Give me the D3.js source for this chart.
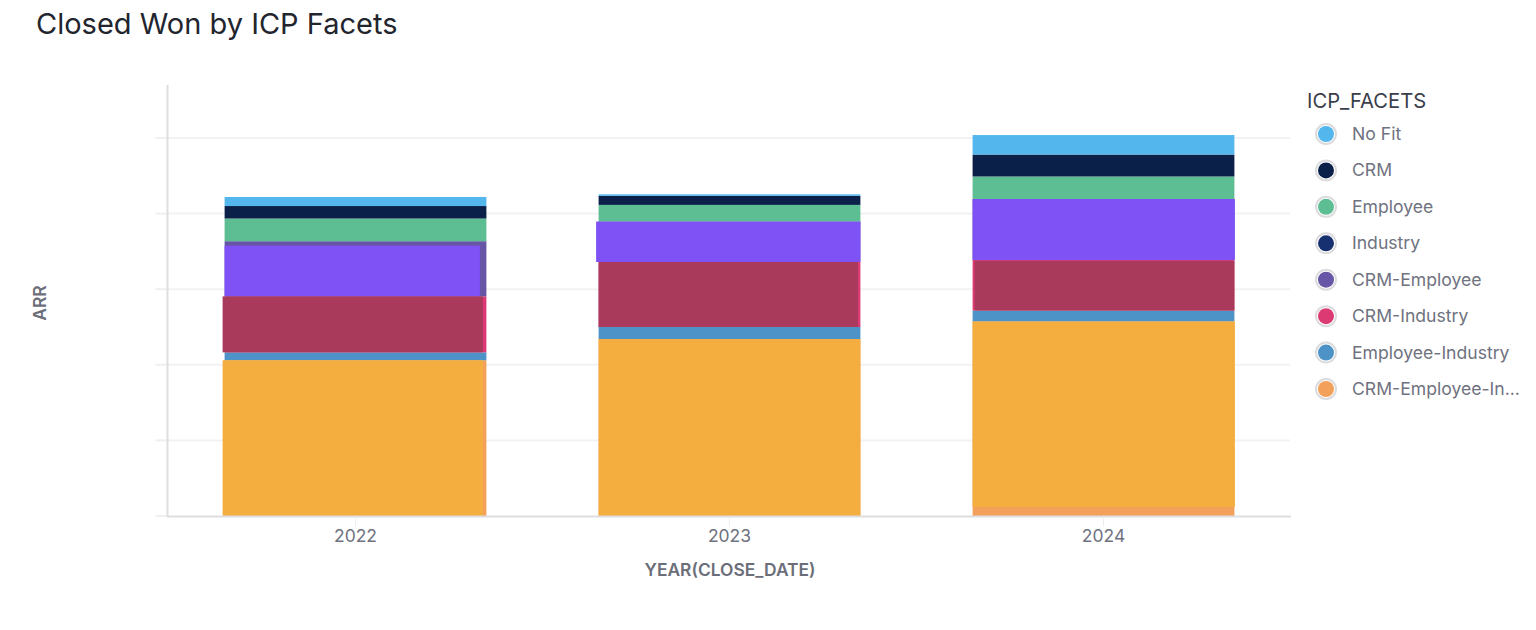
<!DOCTYPE html>
<html><head><meta charset="utf-8">
<script src="https://cdn.jsdelivr.net/npm/d3@7/dist/d3.min.js"></script>
<style>html,body{margin:0;padding:0;background:#fff}svg{display:block}text{font-family:Inter,Roboto,"Noto Sans",sans-serif}</style>
</head><body><svg id="c" width="1536" height="630"></svg>
<script>
const years = ["2022","2023","2024"];
const facets = ["No Fit","CRM","Employee","Industry","CRM-Employee","CRM-Industry","Employee-Industry","CRM-Employee-Industry"];
const facetLabels = ["No Fit","CRM","Employee","Industry","CRM-Employee","CRM-Industry","Employee-Industry","CRM-Employee-In..."];
const noFit = [0.12,0.02,0.258];
const crm = [0.165,0.12,0.29];
const employee = [0.30,0.22,0.298];
const industry = [0,0,0];
const crmEmployee = [0.73,0.535,0.807];
const crmIndustry = [0.74,0.86,0.668];
const employeeIndustry = [0.105,0.16,0.145];
const crmEmployeeIndustry = [2.06,2.34,2.573];
const yTicks = [0,1,2,3,4,5];
// Opaque blocks painted over three of the segments in the source picture
const purpleBlock = [0.67,0.535,0.807];
const redBlock = [0.74,0.86,0.655];
const amberBlock = [2.06,2.34,2.453];
const amberBlockBase = [0,0,0.12];

const colors = ["#53b6ec","#0a2049","#5dbe93","#17306f","#6756a5","#db3a72","#4e93c7","#f3a05a"];
const seriesValues = [noFit,crm,employee,industry,crmEmployee,crmIndustry,employeeIndustry,crmEmployeeIndustry];
// horizontal overhang of each painted block relative to the bar, px: [left, right] per year
const purpleInset = [[0,-6.5],[-2.5,0],[0,0.5]];
const redInset = [[-2,-3.5],[0,-2.5],[2,0]];
const amberInset = [[-2,-3.5],[0,0],[0,0.5]];

const svg = d3.select("#c");
const left = 167.5, bottom = 516;
const x = d3.scaleBand().domain(years).range([168.5,1290.5]).paddingInner(0.3).paddingOuter(0.15);
const y = d3.scaleLinear().domain([0,5]).range([bottom,138]);

svg.append("text").attr("x",36).attr("y",34).attr("font-size",29).attr("fill","#22252e").text("Closed Won by ICP Facets");

const gy = svg.append("g").attr("transform",`translate(${left},0)`)
  .call(d3.axisLeft(y).offset(0).tickValues(yTicks).tickFormat("").tickSize(12));
gy.select(".domain").remove();
gy.selectAll(".tick line").attr("stroke","#efefef").attr("stroke-width",2);
const grid = svg.append("g").attr("transform",`translate(${left},0)`)
  .call(d3.axisRight(y).offset(0).tickValues(yTicks.slice(1)).tickFormat("").tickSize(1290-left));
grid.select(".domain").remove();
grid.selectAll(".tick line").attr("stroke","#f2f2f2").attr("stroke-width",2);

// stacked bars: first facet sits on top
const order = facets.map((_,i)=>i).reverse();
const table = years.map((yr,j)=>{const r={year:yr};facets.forEach((f,i)=>r[f]=seriesValues[i][j]);return r;});
const stacked = d3.stack().keys(order.map(i=>facets[i]))(table);
const barGroup = svg.append("g");
stacked.forEach(s=>{
  barGroup.append("g").attr("fill",colors[facets.indexOf(s.key)])
    .selectAll("rect").data(s).join("rect")
    .attr("x",d=>x(d.data.year)).attr("width",x.bandwidth())
    .attr("y",d=>y(d[1])).attr("height",d=>y(d[0])-y(d[1]));
});
function block(key,values,bases,inset,color){
  const s = stacked.find(k=>k.key===key);
  svg.append("g").attr("fill",color).selectAll("rect").data(s).join("rect")
    .attr("x",(d,j)=>x(d.data.year)+inset[j][0])
    .attr("width",(d,j)=>x.bandwidth()-inset[j][0]+inset[j][1])
    .attr("y",(d,j)=>y(d[0]+bases[j]+values[j]))
    .attr("height",(d,j)=>y(d[0]+bases[j])-y(d[0]+bases[j]+values[j]));
}
block("CRM-Employee",purpleBlock,[0,0,0],purpleInset,"#7f52f5");
block("CRM-Industry",redBlock,[0,0,0],redInset,"#a93a5c");
block("CRM-Employee-Industry",amberBlock,amberBlockBase,amberInset,"#f4ae3f");

// axis lines
svg.append("line").attr("x1",left).attr("x2",left).attr("y1",85).attr("y2",bottom+1).attr("stroke","#dedede").attr("stroke-width",2);
const gx = svg.append("g").attr("transform",`translate(0,${bottom+0.5})`).call(d3.axisBottom(x).offset(0).tickSize(10).tickPadding(3));
gx.select(".domain").attr("d",`M${left},0H1291`).attr("stroke","#dedede").attr("stroke-width",2);
gx.selectAll(".tick line").attr("stroke","#eeeeee");
gx.selectAll(".tick text").attr("font-size",17.5).attr("fill","#6f7280").style("font-family","Inter,Roboto,sans-serif");

svg.append("text").attr("x",730).attr("y",576).attr("text-anchor","middle").attr("font-size",17.4).attr("font-weight",600).attr("fill","#6b6e79").text("YEAR(CLOSE_DATE)");
svg.append("text").attr("transform","translate(46,303) rotate(-90)").attr("text-anchor","middle").attr("font-size",17.4).attr("font-weight",600).attr("fill","#6b6e79").text("ARR");

// legend
svg.append("text").attr("x",1307).attr("y",108).attr("font-size",20.2).attr("fill","#3a3e4a").text("ICP_FACETS");
const ly = d3.scalePoint().domain(facets).range([134,389]);
const items = svg.append("g").selectAll("g").data(facets).join("g").attr("transform",d=>`translate(0,${ly(d)})`);
items.append("circle").attr("cx",1326).attr("r",10).attr("fill","#fff").attr("stroke","#dcdcdf").attr("stroke-width",2);
items.append("circle").attr("cx",1326).attr("r",8).attr("fill",(d,i)=>colors[i]);
items.append("text").attr("x",1352).attr("y",6).attr("font-size",17.6).attr("fill","#6f7280").text((d,i)=>facetLabels[i]);
</script></body></html>
